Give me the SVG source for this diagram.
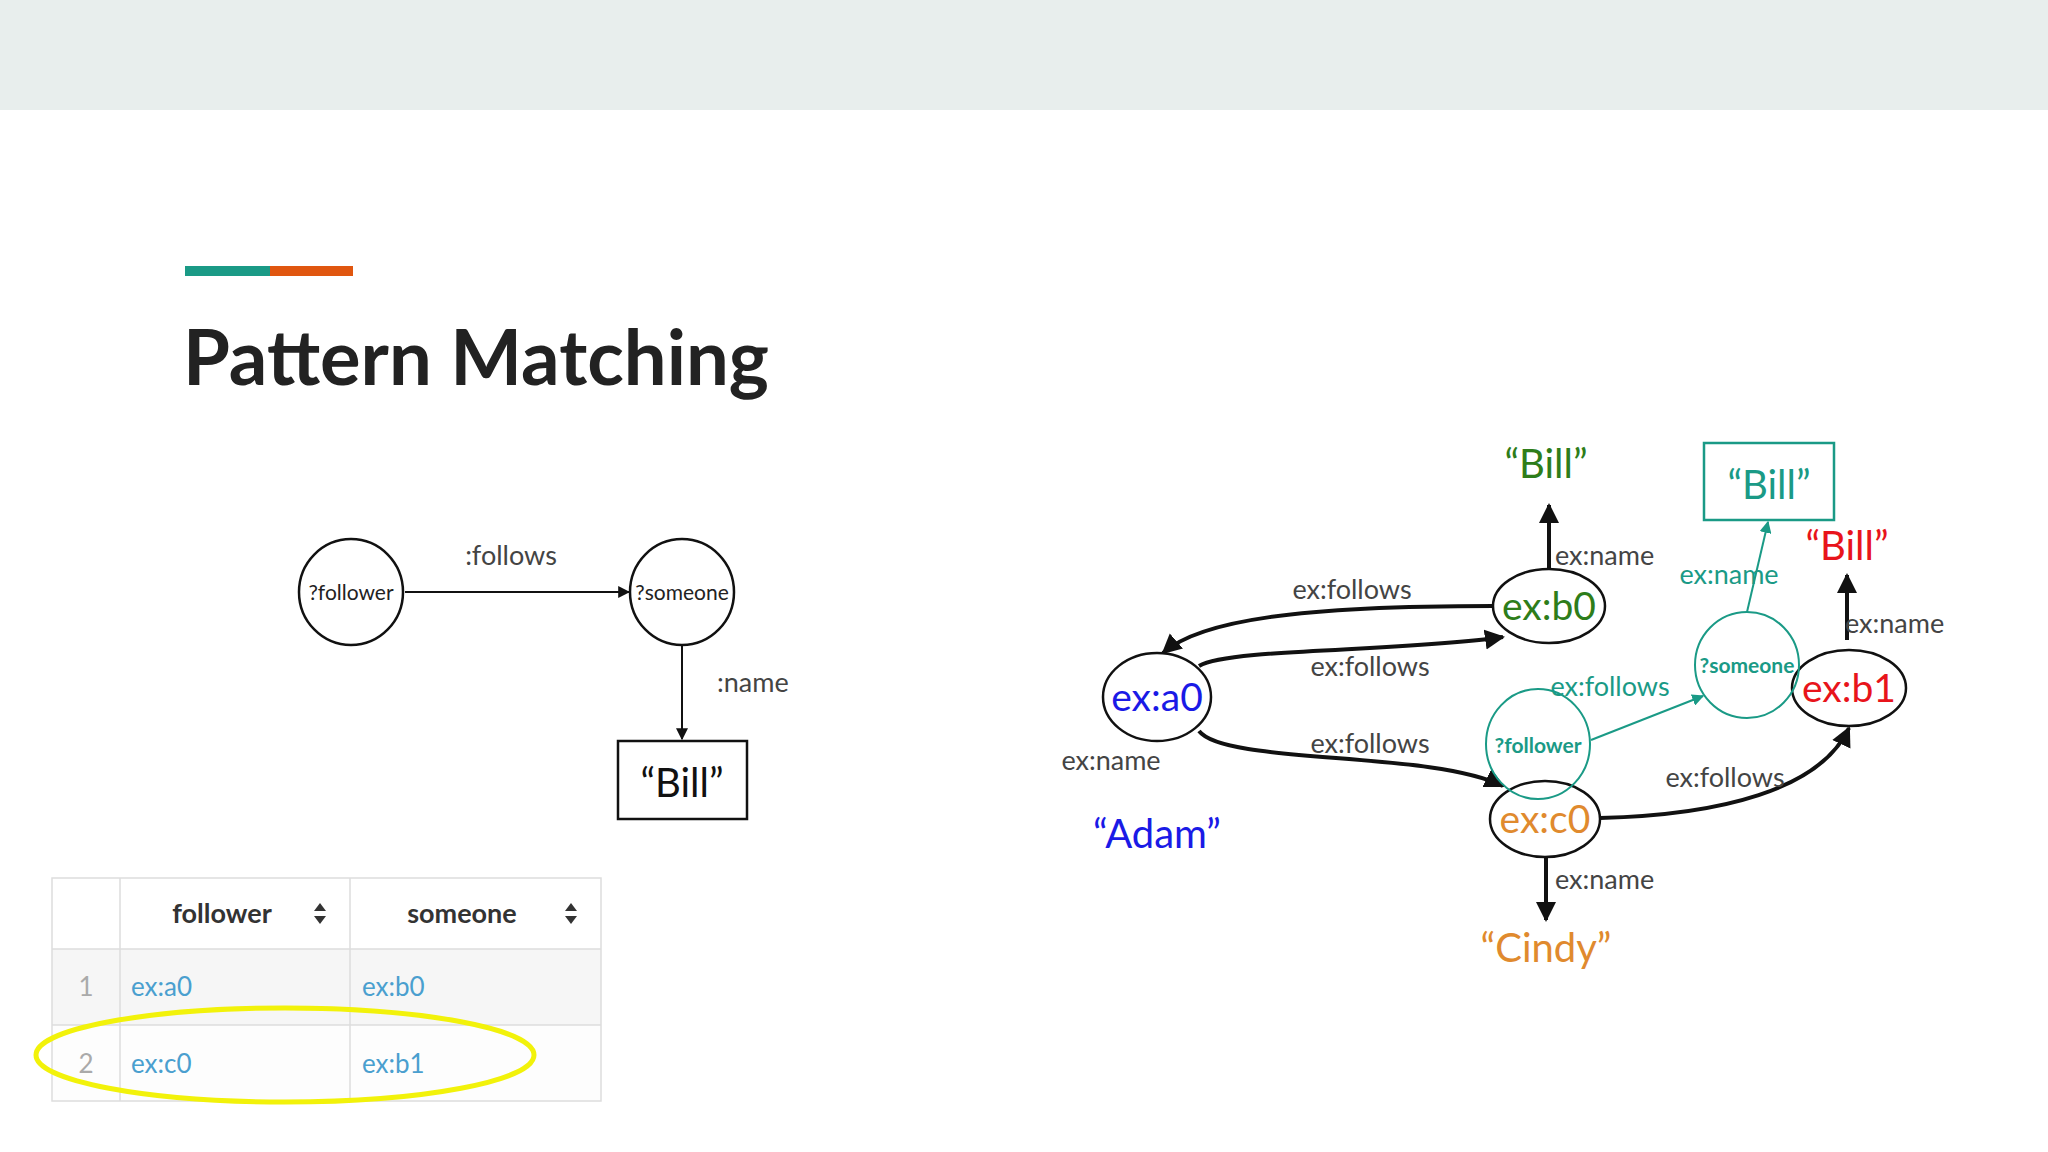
<svg xmlns="http://www.w3.org/2000/svg" width="2048" height="1152" viewBox="0 0 2048 1152">
<defs>
<style>
.t{font-family:"Lato","Liberation Sans",sans-serif}
.lbl{font-family:"Lato","Liberation Sans",sans-serif;font-size:27px;fill:#444}
.tl{font-family:"Lato","Liberation Sans",sans-serif;font-size:27px;fill:#1a9a86}
.thick{fill:none;stroke:#111;stroke-width:4}
.thin{fill:none;stroke:#111;stroke-width:2}
.teal{fill:none;stroke:#1a9a86;stroke-width:2}
.node{fill:#fff;stroke:#111;stroke-width:2.5}
.cell{fill:none;stroke:#ddd;stroke-width:1.5}
.val{font-family:"Lato","Liberation Sans",sans-serif;font-size:26px;fill:#4a9fcf}
</style>
<marker id="ab" viewBox="0 0 10 10" refX="9" refY="5" markerWidth="20" markerHeight="22" markerUnits="userSpaceOnUse" orient="auto"><path d="M0,0L10,5L0,10z" fill="#111"/></marker>
<marker id="as" viewBox="0 0 10 10" refX="9" refY="5" markerWidth="12" markerHeight="12" markerUnits="userSpaceOnUse" orient="auto"><path d="M0,0L10,5L0,10z" fill="#111"/></marker>
<marker id="at" viewBox="0 0 10 10" refX="9" refY="5" markerWidth="12" markerHeight="12" markerUnits="userSpaceOnUse" orient="auto"><path d="M0,0L10,5L0,10z" fill="#1a9a86"/></marker>
</defs>
<rect width="2048" height="1152" fill="#fff"/>
<rect width="2048" height="110" fill="#e8eeed"/>
<rect x="185" y="266" width="85" height="10" fill="#1a9a86"/>
<rect x="270" y="266" width="83" height="10" fill="#e0560f"/>
<text x="183" y="385" class="t" font-size="76" font-weight="bold" fill="#222">Pattern Matching</text>

<g id="connectors">
<line x1="405" y1="592" x2="629" y2="592" class="thin" marker-end="url(#as)"/>
<line x1="682" y1="645" x2="682" y2="739" class="thin" marker-end="url(#as)"/>
<line x1="1549" y1="569" x2="1549" y2="505" class="thick" marker-end="url(#ab)"/>
<line x1="1847" y1="640" x2="1847" y2="575" class="thick" marker-end="url(#ab)"/>
<line x1="1546" y1="857" x2="1546" y2="920" class="thick" marker-end="url(#ab)"/>
<path d="M1493,606 C1300,606 1200,620 1163,653" class="thick" marker-end="url(#ab)"/>
<path d="M1199,666 C1230,648 1400,652 1503,637" class="thick" marker-end="url(#ab)"/>
<path d="M1199,731 C1225,765 1430,750 1503,786" class="thick" marker-end="url(#ab)"/>
<path d="M1600,818 C1720,815 1820,790 1849,728" class="thick" marker-end="url(#ab)"/>
<line x1="1591" y1="740" x2="1703" y2="696" class="teal" marker-end="url(#at)"/>
<line x1="1747" y1="612" x2="1768" y2="522" class="teal" marker-end="url(#at)"/>
</g>

<text x="511" y="565" class="lbl" text-anchor="middle">:follows</text>
<text x="717" y="692" class="lbl">:name</text>

<g id="p-follower"><ellipse cx="351" cy="592" rx="52" ry="53" class="node"/><text x="351" y="600" class="t" font-size="21" text-anchor="middle" fill="#222">?follower</text></g>
<g id="p-someone"><ellipse cx="682" cy="592" rx="52" ry="53" class="node"/><text x="682" y="600" class="t" font-size="21" text-anchor="middle" fill="#222">?someone</text></g>
<g id="p-bill"><rect x="618" y="741" width="129" height="78" fill="#fff" stroke="#111" stroke-width="2.5"/><text x="682" y="797" class="t" font-size="40" text-anchor="middle" fill="#111">“Bill”</text></g>

<g id="table">
<rect x="52" y="949" width="549" height="76" fill="#f6f6f6"/>
<rect x="52" y="1025" width="549" height="76" fill="#fdfdfd"/>
<rect x="52" y="878" width="549" height="223" class="cell"/>
<line x1="52" y1="949" x2="601" y2="949" class="cell"/>
<line x1="52" y1="1025" x2="601" y2="1025" class="cell"/>
<line x1="120" y1="878" x2="120" y2="1101" class="cell"/>
<line x1="350" y1="878" x2="350" y2="1101" class="cell"/>
<text x="222" y="923" class="t" font-size="27" font-weight="bold" fill="#333" text-anchor="middle">follower</text>
<text x="462" y="923" class="t" font-size="27" font-weight="bold" fill="#333" text-anchor="middle">someone</text>
<path d="M314,911l6,-8l6,8zM314,916l6,8l6,-8z" fill="#333"/>
<path d="M565,911l6,-8l6,8zM565,916l6,8l6,-8z" fill="#333"/>
<text x="86" y="996" class="t" font-size="26" fill="#aaa" text-anchor="middle">1</text>
<text x="86" y="1073" class="t" font-size="26" fill="#aaa" text-anchor="middle">2</text>
<text x="131" y="996" class="val">ex:a0</text>
<text x="362" y="996" class="val">ex:b0</text>
<text x="131" y="1073" class="val">ex:c0</text>
<text x="362" y="1073" class="val">ex:b1</text>
<ellipse cx="285" cy="1055" rx="249" ry="47" fill="none" stroke="#f2f20a" stroke-width="5"/>
</g>

<text x="1546" y="478" class="t" font-size="40" fill="#2e7d1a" text-anchor="middle">“Bill”</text>
<text x="1847" y="560" class="t" font-size="40" fill="#e8141b" text-anchor="middle">“Bill”</text>
<text x="1157" y="848" class="t" font-size="40" fill="#1a1ae6" text-anchor="middle">“Adam”</text>
<text x="1546" y="962" class="t" font-size="40" fill="#e08a2e" text-anchor="middle">“Cindy”</text>

<text x="1555" y="565" class="lbl">ex:name</text>
<text x="1352" y="599" class="lbl" text-anchor="middle">ex:follows</text>
<text x="1370" y="676" class="lbl" text-anchor="middle">ex:follows</text>
<text x="1370" y="753" class="lbl" text-anchor="middle">ex:follows</text>
<text x="1111" y="770" class="lbl" text-anchor="middle">ex:name</text>
<text x="1845" y="633" class="lbl">ex:name</text>
<text x="1725" y="787" class="lbl" text-anchor="middle">ex:follows</text>
<text x="1555" y="889" class="lbl">ex:name</text>
<text x="1610" y="696" class="tl" text-anchor="middle">ex:follows</text>
<text x="1729" y="584" class="tl" text-anchor="middle">ex:name</text>

<g id="bill-box"><rect x="1704" y="443" width="130" height="77" fill="none" stroke="#1a9a86" stroke-width="2.5"/><text x="1769" y="499" class="t" font-size="40" fill="#1a9a86" text-anchor="middle">“Bill”</text></g>
<g id="a0"><ellipse cx="1157" cy="697" rx="54" ry="44" class="node"/><text x="1157" y="711" class="t" font-size="39" fill="#1a1ae6" text-anchor="middle">ex:a0</text></g>
<g id="b0"><ellipse cx="1549" cy="606" rx="56" ry="37" class="node"/><text x="1549" y="620" class="t" font-size="39" fill="#2e7d1a" text-anchor="middle">ex:b0</text></g>
<g id="c0"><ellipse cx="1545" cy="819" rx="55" ry="38" class="node"/><text x="1545" y="833" class="t" font-size="39" fill="#e08a2e" text-anchor="middle">ex:c0</text></g>
<g id="b1"><ellipse cx="1849" cy="688" rx="57" ry="38" class="node"/><text x="1849" y="702" class="t" font-size="39" fill="#e8141b" text-anchor="middle">ex:b1</text></g>
<g id="q-follower"><ellipse cx="1538" cy="744" rx="52" ry="55" fill="none" stroke="#1a9a86" stroke-width="2"/><text x="1538" y="753" class="t" font-size="21" font-weight="bold" fill="#1a9a86" text-anchor="middle">?follower</text></g>
<g id="q-someone"><ellipse cx="1747" cy="665" rx="52" ry="53" fill="none" stroke="#1a9a86" stroke-width="2"/><text x="1747" y="673" class="t" font-size="21" font-weight="bold" fill="#1a9a86" text-anchor="middle">?someone</text></g>
</svg>
